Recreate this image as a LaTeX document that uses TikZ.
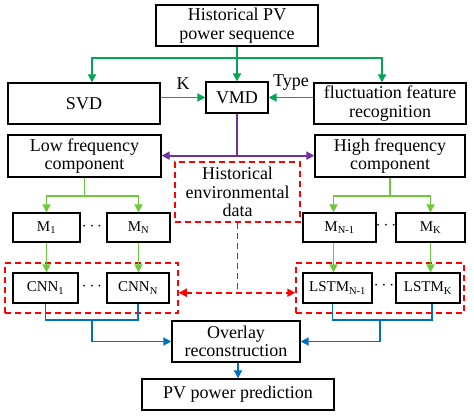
\documentclass[tikz,border=0pt]{standalone}
\usepackage{fontspec}
\setmainfont{Liberation Serif}
\usetikzlibrary{arrows.meta,calc}
\definecolor{gdark}{RGB}{0,166,81}
\definecolor{glight}{RGB}{110,200,60}
\definecolor{purp}{RGB}{112,48,160}
\definecolor{redd}{RGB}{255,0,0}
\definecolor{bluu}{RGB}{0,112,192}
\begin{document}
\begin{tikzpicture}[x=1pt,y=-1pt,
  box/.style={draw=black,line width=1.3pt,inner sep=0pt,align=center,
    font=\fontsize{18}{18.5}\selectfont},
  sbox/.style={box,font=\fontsize{15}{16}\selectfont},
  dbox/.style={draw=redd,line width=1.5pt,dash pattern=on 6pt off 4pt,inner sep=0pt,align=center,
    font=\fontsize{18}{18.5}\selectfont},
  lbl/.style={inner sep=1pt,font=\fontsize{18}{18.5}\selectfont},
  tip/.style={-{Triangle[length=8pt,width=8pt]}},
  garr/.style={draw=gdark,line width=1.8pt,tip},
  gline/.style={draw=gdark,line width=1.8pt},
  larr/.style={draw=glight,line width=1.8pt,tip},
  lline/.style={draw=glight,line width=1.8pt},
  parr/.style={draw=purp,line width=1.8pt,tip},
  pline/.style={draw=purp,line width=1.8pt},
  rline/.style={draw=redd,line width=1.8pt,dash pattern=on 6pt off 4pt},
  rarr/.style={draw=redd,line width=1.8pt,dash pattern=on 6pt off 4pt,{Triangle[length=8pt,width=8pt]}-{Triangle[length=8pt,width=8pt]}},
  bline/.style={draw=bluu,line width=1.8pt},
  barr/.style={draw=bluu,line width=1.8pt,tip},
]
\useasboundingbox (0,0) rectangle (474,417);
\fill[white] (0,0) rectangle (474,417);

\node[box,minimum width=162pt,minimum height=41pt] (top) at (237,25.5) {Historical PV\\power sequence};
\node[box,minimum width=152pt,minimum height=41pt] (svd) at (84,103.5) {SVD};
\node[box,minimum width=62pt,minimum height=31pt] (vmd) at (237,97.5) {VMD};
\node[box,minimum width=152pt,minimum height=41pt] (fl) at (390,103.5) {fluctuation feature\\recognition};
\node[box,minimum width=153pt,minimum height=42pt] (low) at (84.5,156) {Low frequency\\component};
\node[box,minimum width=150pt,minimum height=42pt] (high) at (390,156) {High frequency\\component};
\node[dbox,minimum width=125pt,minimum height=60pt] (env) at (237.5,192) {Historical\\environmental\\data};

\node[sbox,minimum width=67pt,minimum height=29pt] (m1) at (46.5,227.5) {M\textsubscript{1}};
\node[sbox,minimum width=63pt,minimum height=29pt] (mn) at (138.5,227.5) {M\textsubscript{N}};
\node[sbox,minimum width=73pt,minimum height=29pt] (mn1) at (339.5,227.5) {M\textsubscript{N-1}};
\node[sbox,minimum width=69pt,minimum height=29pt] (mk) at (430.5,227.5) {M\textsubscript{K}};
\node[lbl] (d1) at (92,227) {$\cdots$};
\node[lbl] (d2) at (386,226) {$\cdots$};

\node[dbox,minimum width=173pt,minimum height=50pt] (ld) at (91.5,288) {};
\node[dbox,minimum width=168pt,minimum height=50pt] (rd) at (380,288) {};
\node[sbox,minimum width=65pt,minimum height=30pt] (c1) at (45.5,288) {CNN\textsubscript{1}};
\node[sbox,minimum width=62pt,minimum height=30pt] (cn) at (138,288) {CNN\textsubscript{N}};
\node[sbox,minimum width=69pt,minimum height=30pt] (l1) at (337.5,288) {LSTM\textsubscript{N-1}};
\node[sbox,minimum width=64pt,minimum height=30pt] (lk) at (428,288) {LSTM\textsubscript{K}};
\node[lbl] (d3) at (92,287) {$\cdots$};
\node[lbl] (d4) at (384,286) {$\cdots$};

\node[box,minimum width=128pt,minimum height=41pt] (ov) at (236,341.5) {Overlay\\reconstruction};
\node[box,minimum width=192pt,minimum height=31pt] (pv) at (238,394.5) {PV power prediction};

% top green
\draw[gline] (top.south) -- ++(0,11) coordinate (j1);
\draw[garr] (j1) -| ([xshift=8pt]svd.north);
\draw[garr] (j1) -| ([xshift=-8pt]fl.north);
\draw[garr] (top.south) -- (vmd.north);
\draw[garr] (svd.east |- vmd.west) -- (vmd.west) node[midway,above=6pt,lbl] {K};
\draw[garr] (fl.west |- vmd.east) -- (vmd.east) node[pos=0.5,above=5pt,lbl] {Type};

% purple
\draw[pline] (vmd.south) -- ++(0,42) coordinate (j2);
\draw[parr] (j2) -- (low.east |- j2);
\draw[parr] (j2) -- (high.west |- j2);

% lower green
\draw[lline] (low.south) -- ++(0,18) coordinate (j3);
\draw[larr] (j3) -| (m1.north);
\draw[larr] (j3) -| (mn.north);
\draw[lline] (high.south) -- ++(0,18) coordinate (j4);
\draw[larr] (j4) -| ([xshift=-6pt]mn1.north);
\draw[larr] (j4) -| (mk.north);
\draw[larr] (m1.south) -- (m1.south |- c1.north);
\draw[larr] (mn.south) -- (mn.south |- cn.north);
\draw[larr] ([xshift=-6pt]mn1.south) -- ([xshift=-6pt]mn1.south |- l1.north);
\draw[larr] (mk.south) -- (mk.south |- lk.north);

% red
\draw[rline] (env.south) -- ++(0,70) coordinate (j5);
\draw[rarr] (ld.east |- j5) -- (rd.west |- j5);

% blue
\draw[bline] (c1.south) -- ++(0,16) coordinate (b1) -| (cn.south);
\draw[barr] ($(b1)!0.5!(b1 -| cn.south)$) |- (ov.west);
\draw[bline] ([xshift=-5pt]l1.south) -- ++(0,16) coordinate (b2) -| ([xshift=4pt]lk.south);
\draw[barr] ($(b2)!0.5!(b2 -| lk.south)$) |- (ov.east);
\draw[barr] ([xshift=2pt]ov.south) -- ([xshift=2pt]ov.south |- pv.north);
\end{tikzpicture}
\end{document}
